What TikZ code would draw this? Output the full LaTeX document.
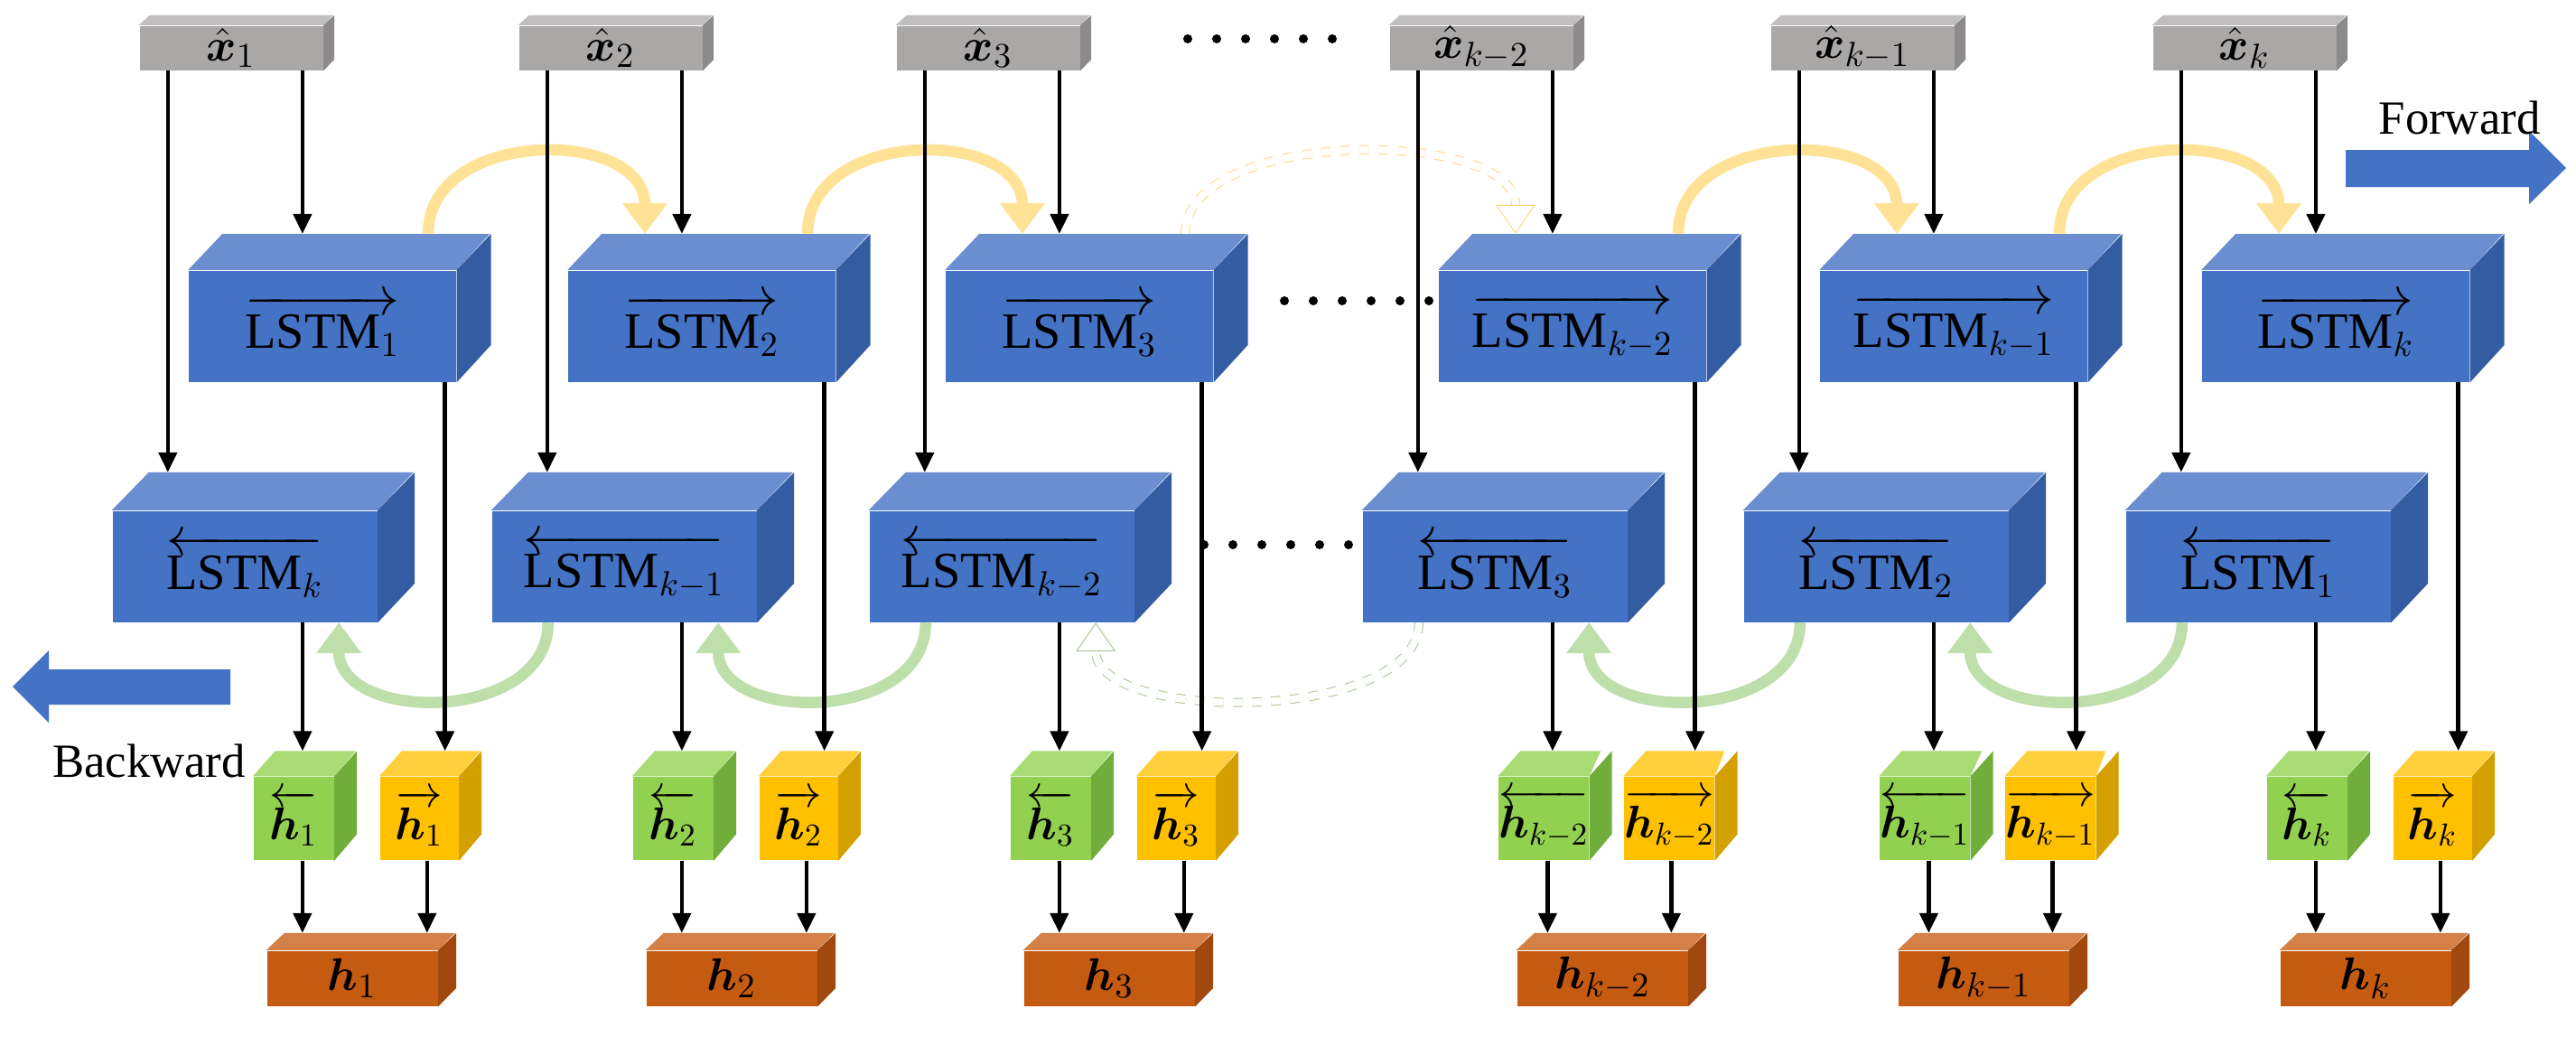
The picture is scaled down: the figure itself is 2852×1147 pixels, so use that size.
\documentclass[tikz,border=0pt]{standalone}
\usepackage{amsmath,bm}
\usepackage{fontspec}
\setmainfont{Liberation Serif}
\usetikzlibrary{arrows.meta,calc}
\definecolor{bluefront}{RGB}{68,114,196}\definecolor{bluetop}{RGB}{106,142,208}\definecolor{blueside}{RGB}{52,92,162}
\definecolor{grayfront}{RGB}{170,167,167}\definecolor{graytop}{RGB}{192,190,190}\definecolor{grayside}{RGB}{140,138,138}
\definecolor{greenfront}{RGB}{146,208,80}\definecolor{greentop}{RGB}{170,220,118}\definecolor{greenside}{RGB}{112,173,58}
\definecolor{yelfront}{RGB}{255,192,0}\definecolor{yeltop}{RGB}{255,208,60}\definecolor{yelside}{RGB}{212,160,0}
\definecolor{orfront}{RGB}{197,90,17}\definecolor{ortop}{RGB}{212,128,70}\definecolor{orside}{RGB}{160,72,14}
\definecolor{arcy}{RGB}{255,226,150}\definecolor{arcg}{RGB}{190,222,170}
\tikzset{
 box/.style={rectangle,inner sep=0pt,font=\fontsize{16}{18}\selectfont},
 arr/.style={-{Triangle[length=2.2mm,width=2mm]},line width=0.45mm,black},
 yarc/.style={-{Triangle[length=3.4mm,width=4.8mm]},line width=1.25mm,arcy},
 garc/.style={-{Triangle[length=3.4mm,width=4.8mm]},line width=1.25mm,arcg},
 yarcd/.style={-{Triangle[open,length=3.2mm,width=4.4mm]},dashed,double=white,double distance=0.8mm,line width=0.3pt,arcy!90!orange},
 garcd/.style={-{Triangle[open,length=3.2mm,width=4.4mm]},dashed,double=white,double distance=0.8mm,line width=0.3pt,arcg!90!black},
 bigarr/.style={fill=bluefront},
 dot/.style={circle,fill=black,inner sep=0pt,minimum size=0.1cm},
 lbl/.style={font=\fontsize{15}{18}\selectfont}
}
\newcommand\cube[9]{%
 \node[box,fill=#8front,minimum width=#4*0.01cm,minimum height=#5*0.01cm] (#1) at (#2,#3) {#9};
 \fill[#8top] (#1.north west) -- ++(#6,-#7) -- ++(#4,0) -- (#1.north east) -- cycle;
 \fill[#8side] (#1.north east) -- ++(#6,-#7) -- ++(0,#5) -- (#1.south east) -- cycle;
 \coordinate (#1-t) at ($(#1.north)+(#6,-#7)$);
}
\begin{document}
\begin{tikzpicture}[x=0.01cm,y=-0.01cm]
\useasboundingbox[fill=white] (0,0) rectangle (2852,1147);
\foreach \i/\o/\s/\b in {1/0/1/k,2/420/2/k-1,3/838/3/k-2,4/1384/k-2/3,5/1806/k-1/2,6/2229/k/1}{
 \cube{g\i}{256+\o}{53}{203}{49}{12}{11}{gray}{\fontsize{15}{16}\selectfont$\hat{\bm{x}}_{\s}$}
 \cube{f\i}{357+\o}{361}{296}{123}{38}{40}{blue}{\raisebox{3pt}{$\overrightarrow{\mathrm{LSTM}_{\s}}$}}
 \cube{b\i}{271+\o}{627}{293}{123}{41}{42}{blue}{$\overleftarrow{\mathrm{LSTM}_{\b}}$}
 \cube{gr\i}{325+\o}{906}{89}{92}{25}{28}{green}{\fontsize{14}{16}\selectfont$\overleftarrow{\bm{h}_{\s}}$}
 \cube{y\i}{464+\o}{906}{87}{92}{25}{28}{yel}{\fontsize{14}{16}\selectfont$\overrightarrow{\bm{h}_{\s}}$}
 \cube{o\i}{390+\o}{1083}{189}{61}{20}{19}{or}{\fontsize{15}{18}\selectfont$\bm{h}_{\s}$}
}
% recurrent arcs
\foreach \i/\j in {1/2,2/3,4/5,5/6}{
 \draw[yarc] ([xshift=0.79cm]f\i-t) .. controls +(0,-118) and +(0,-118) .. ([xshift=-1.01cm]f\j-t);
 \draw[garc] ([xshift=0.63cm]b\j.south west) .. controls +(0,112) and +(0,112) .. ([xshift=-0.43cm]b\i.south east);
}
\draw[yarcd] ([xshift=0.79cm]f3-t) .. controls +(0,-118) and +(0,-118) .. ([xshift=-1.01cm]f4-t);
\draw[garcd] ([xshift=0.63cm]b4.south west) .. controls +(0,112) and +(0,112) .. ([xshift=-0.43cm]b3.south east);
% vertical connectors
\foreach \i in {1,...,6}{
 \path ([xshift=0.32cm]g\i.south west) coordinate (pl\i);
 \path ([xshift=1.81cm]g\i.south west) coordinate (pr\i);
 \path ([xshift=-0.13cm]f\i.south east) coordinate (pf\i);
 \path ([xshift=2.11cm]b\i.south west) coordinate (pb\i);
 \path ([xshift=0.55cm]gr\i.south west) coordinate (pg\i);
 \path ([xshift=0.53cm]y\i.south west) coordinate (py\i);
 \draw[arr] (pl\i) -- (pl\i |- b\i-t);
 \draw[arr] (pr\i) -- (pr\i |- f\i-t);
 \draw[arr] (pf\i) -- (pf\i |- y\i-t);
 \draw[arr] (pb\i) -- (pb\i |- gr\i-t);
 \draw[arr] (pg\i) -- (pg\i |- o\i-t);
 \draw[arr] (py\i) -- (py\i |- o\i-t);
}
% dots
\foreach \k in {0,...,5}{
 \node[dot] (dt\k) at (1315+32*\k,43) {};
 \node[dot] (df\k) at (1422+32*\k,333) {};
 \node[dot] (db\k) at (1333+32*\k,603) {};
}
% direction arrows
\fill[bigarr] (2597,166) -- (2800,166) -- (2800,145) -- (2841,186) -- (2800,226) -- (2800,207) -- (2597,207) -- cycle;
\node[lbl] (fw) at (2723,130) {Forward};
\fill[bigarr] (255,741) -- (54,741) -- (54,720) -- (14,760) -- (54,800) -- (54,780) -- (255,780) -- cycle;
\node[lbl] (bw) at (165,842) {Backward};
\end{tikzpicture}
\end{document}
